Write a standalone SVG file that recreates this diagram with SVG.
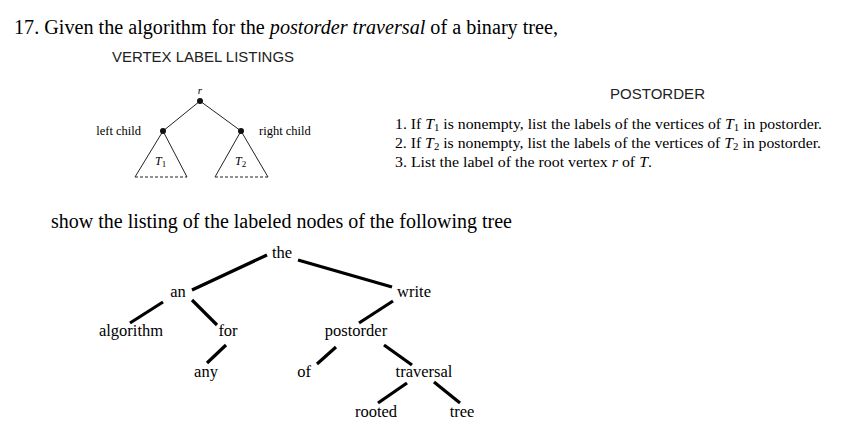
<svg xmlns="http://www.w3.org/2000/svg" width="864" height="447" viewBox="0 0 864 447">
<style>
.s{font-family:"Liberation Serif",serif;fill:#000}
.a{font-family:"Liberation Sans",sans-serif;fill:#222}
.n{font-family:"Liberation Serif",serif;font-size:16.5px;text-anchor:middle}
.c line{stroke:#000;stroke-width:3.2}
.t line,.t path{stroke:#222;stroke-width:1;fill:none}
</style>
<rect width="864" height="447" fill="#fff"/>
<text class="s" x="14" y="34" font-size="20" textLength="544" lengthAdjust="spacingAndGlyphs">17. Given the algorithm for the <tspan font-style="italic">postorder traversal</tspan> of a binary tree,</text>
<text class="a" x="112" y="62" font-size="14.5" textLength="182" lengthAdjust="spacingAndGlyphs">VERTEX LABEL LISTINGS</text>
<g id="small-tree" class="t">
<text class="s" x="200" y="94" font-size="11" font-style="italic" text-anchor="middle">r</text>
<line x1="200" y1="101" x2="163" y2="131"/><line x1="200" y1="101" x2="241" y2="131"/>
<path d="M135,177 L163,131 L187,177 M215,177 L241,131 L268,177"/>
<path d="M135,177 H187 M215,177 H268" stroke-dasharray="3,2"/>
<circle cx="200" cy="101" r="3" fill="#111"/><circle cx="163" cy="131" r="3" fill="#111"/><circle cx="241" cy="131" r="3" fill="#111"/>
<text class="s" x="141" y="135" font-size="12.5" text-anchor="end">left child</text>
<text class="s" x="259" y="135" font-size="12.5">right child</text>
<text class="s" x="155" y="165" font-size="12" font-style="italic">T<tspan font-size="9" font-style="normal" dy="2">1</tspan></text>
<text class="s" x="235" y="165" font-size="12" font-style="italic">T<tspan font-size="9" font-style="normal" dy="2">2</tspan></text>
</g>
<text class="a" x="610" y="99" font-size="14.5" textLength="95" lengthAdjust="spacingAndGlyphs">POSTORDER</text>
<g class="s" font-size="14.5">
<text x="395" y="129" textLength="427" lengthAdjust="spacingAndGlyphs">1.  If <tspan font-style="italic">T</tspan><tspan font-size="10" dy="2">1</tspan><tspan dy="-2"> is nonempty, list the labels of the vertices of </tspan><tspan font-style="italic">T</tspan><tspan font-size="10" dy="2">1</tspan><tspan dy="-2"> in postorder.</tspan></text>
<text x="395" y="148" textLength="426" lengthAdjust="spacingAndGlyphs">2.  If <tspan font-style="italic">T</tspan><tspan font-size="10" dy="2">2</tspan><tspan dy="-2"> is nonempty, list the labels of the vertices of </tspan><tspan font-style="italic">T</tspan><tspan font-size="10" dy="2">2</tspan><tspan dy="-2"> in postorder.</tspan></text>
<text x="395" y="167" textLength="257" lengthAdjust="spacingAndGlyphs">3.  List the label of the root vertex <tspan font-style="italic">r</tspan> of <tspan font-style="italic">T</tspan>.</text>
</g>
<text class="s" x="51" y="228" font-size="20" textLength="461" lengthAdjust="spacingAndGlyphs">show the listing of the labeled nodes of the following tree</text>
<g id="connectors" class="c">
<line x1="267" y1="255" x2="192" y2="290"/>
<line x1="298" y1="260" x2="392" y2="287"/>
<line x1="163" y1="302" x2="130" y2="323"/>
<line x1="192" y1="300" x2="217" y2="325"/>
<line x1="226" y1="345" x2="207" y2="363"/>
<line x1="393" y1="301" x2="359" y2="323"/>
<line x1="336" y1="347" x2="317" y2="364"/>
<line x1="384" y1="345" x2="412" y2="365"/>
<line x1="407" y1="383" x2="378" y2="403"/>
<line x1="434" y1="382" x2="460" y2="403"/>
</g>
<g id="n-the"><text class="n" x="282" y="258">the</text></g>
<g id="n-an"><text class="n" x="178" y="297">an</text></g>
<g id="n-write"><text class="n" x="414" y="297">write</text></g>
<g id="n-algorithm"><text class="n" x="131" y="336">algorithm</text></g>
<g id="n-for"><text class="n" x="228" y="336">for</text></g>
<g id="n-postorder"><text class="n" x="356" y="336">postorder</text></g>
<g id="n-any"><text class="n" x="206" y="377">any</text></g>
<g id="n-of"><text class="n" x="304" y="377">of</text></g>
<g id="n-traversal"><text class="n" x="424" y="377">traversal</text></g>
<g id="n-rooted"><text class="n" x="376" y="417">rooted</text></g>
<g id="n-tree"><text class="n" x="462" y="417">tree</text></g>
</svg>
